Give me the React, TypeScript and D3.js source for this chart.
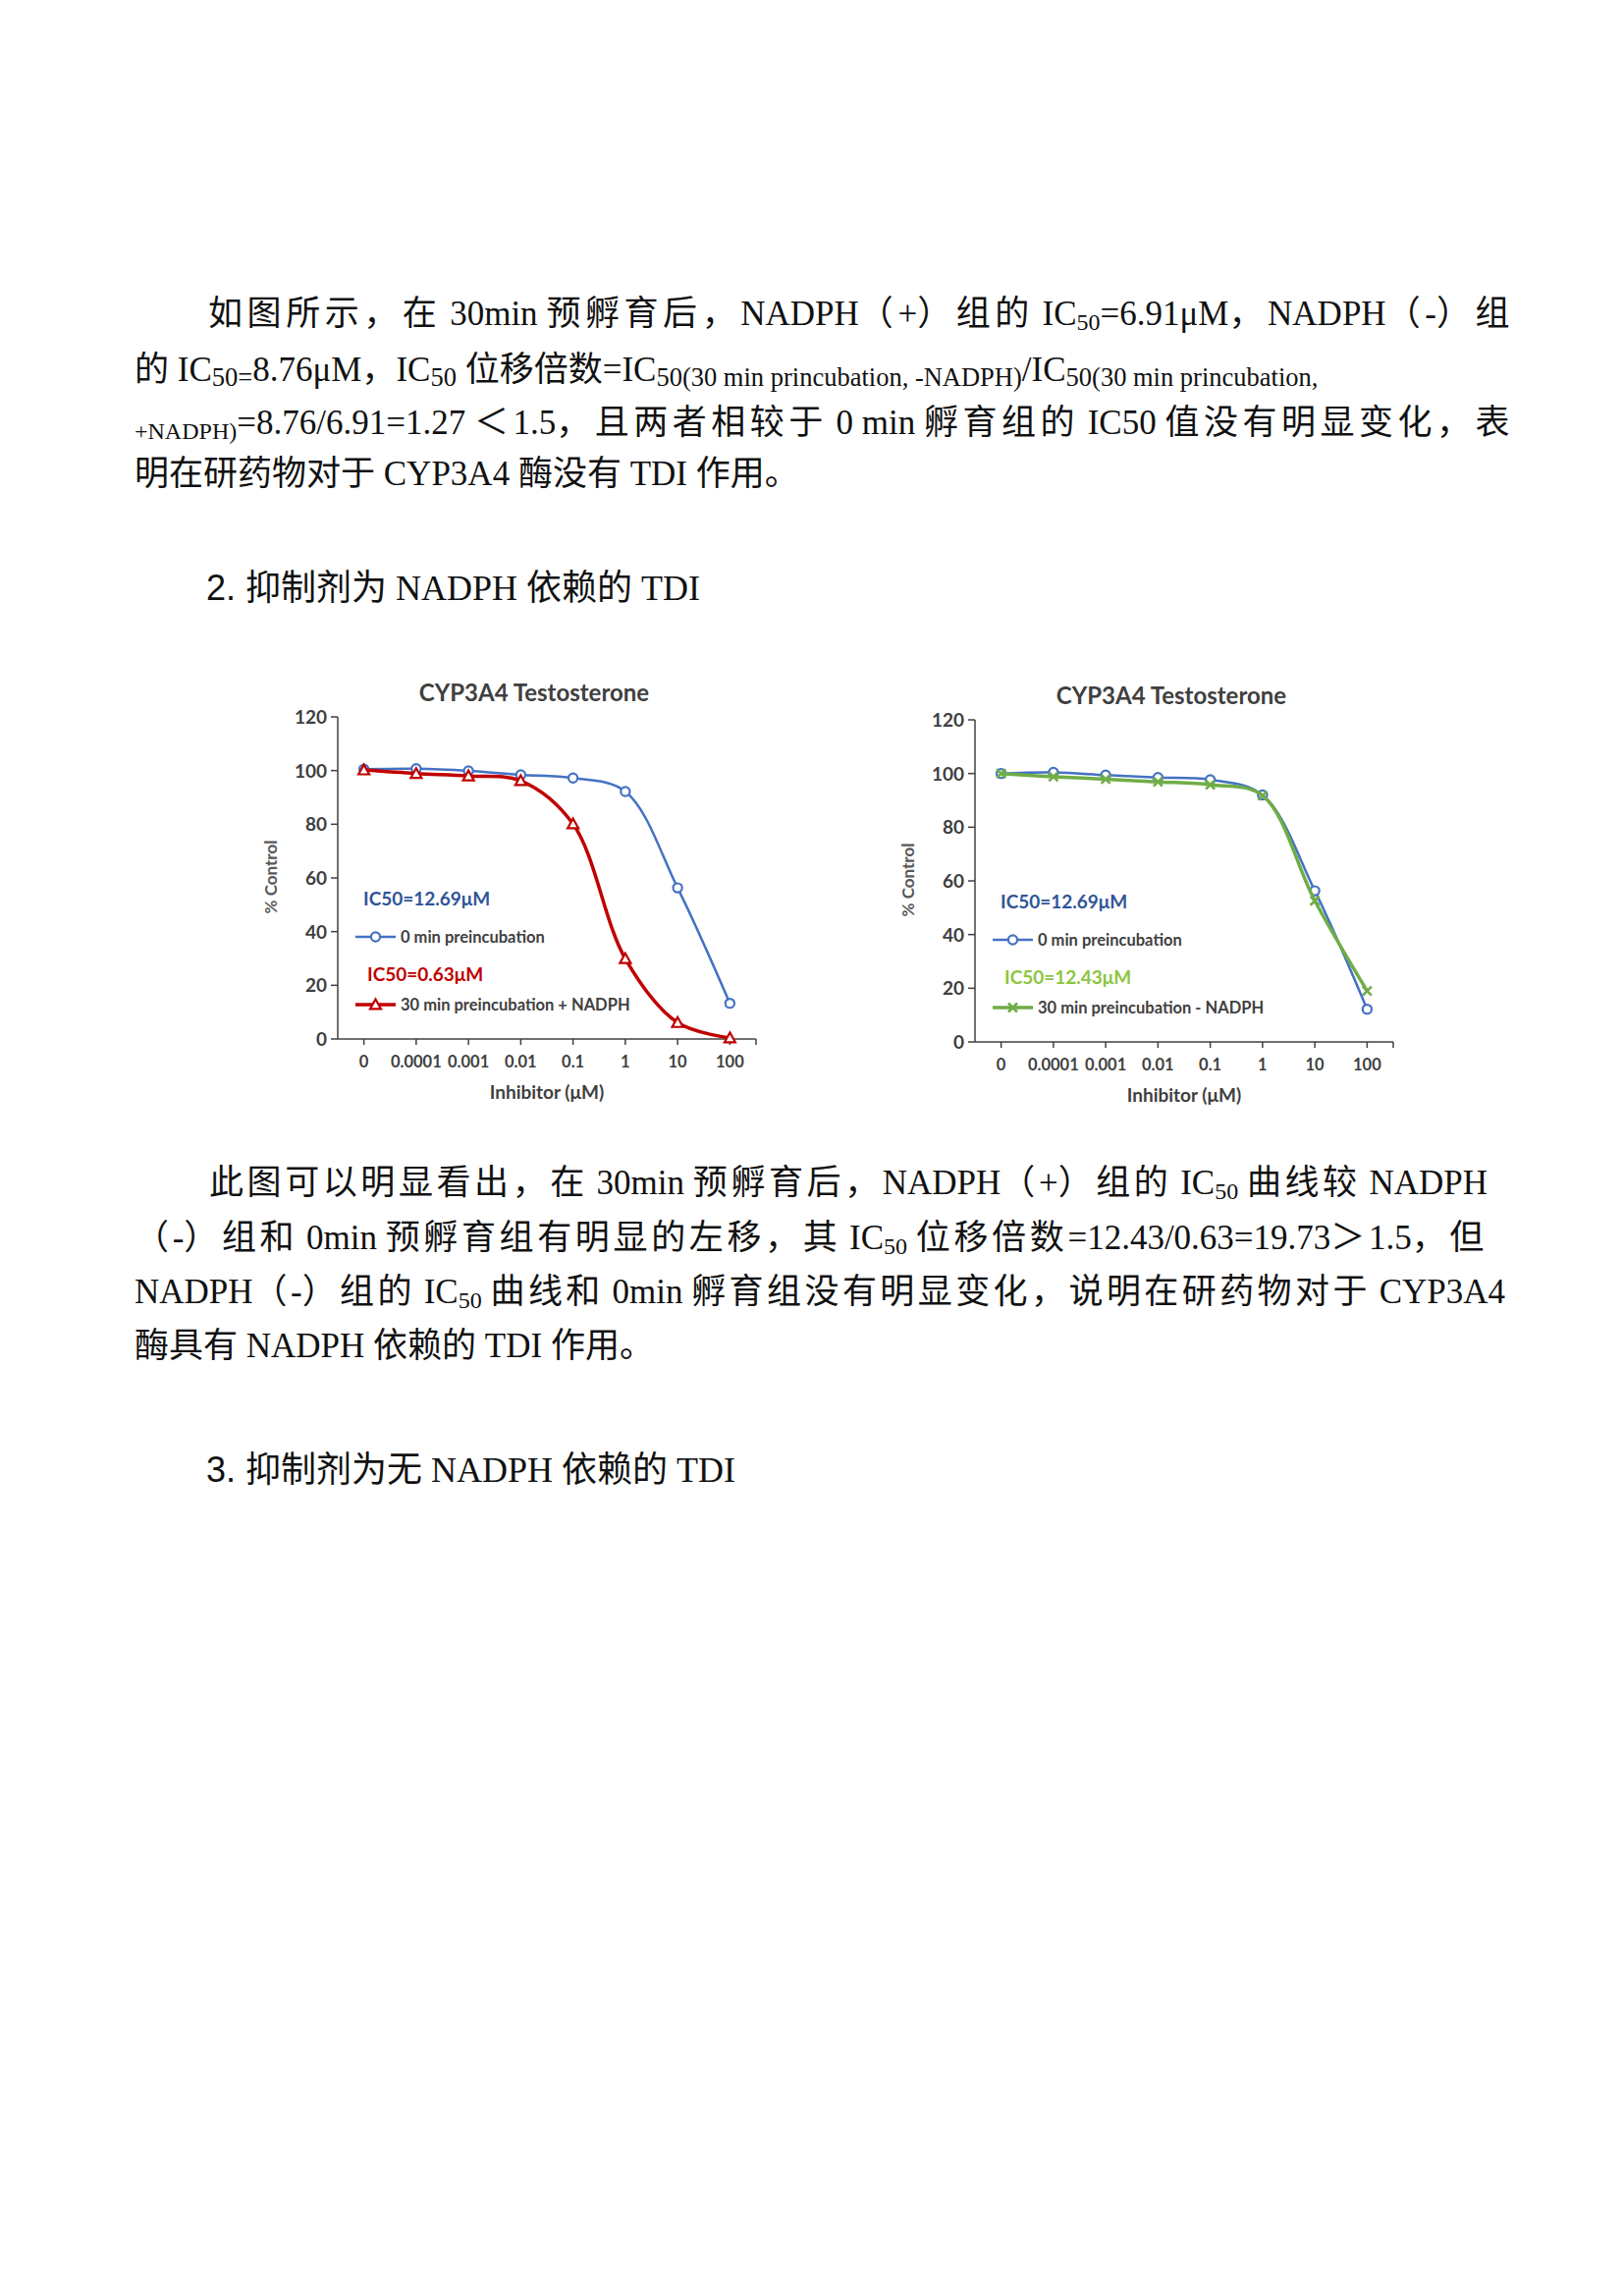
import * as d3 from "d3";
import React, { useLayoutEffect, useRef, useState } from "react";

// concentrations on the category axis
const concLabels = ["0", "0.0001", "0.001", "0.01", "0.1", "1", "10", "100"];
const yTicks = [0, 20, 40, 60, 80, 100, 120];

// left chart: NADPH dependent TDI
const leftZeroMin = [100.5, 100.7, 99.9, 98.4, 97.2, 92.2, 56.3, 13.3];
const leftPlusNadph = [100.2, 98.9, 98.0, 96.2, 80.1, 29.9, 6.1, 0.4];

// right chart: no shift without NADPH
const rightZeroMin = [100, 100.4, 99.4, 98.5, 97.7, 92.0, 56.3, 12.2];
const rightMinusNadph = [100, 98.8, 97.9, 96.9, 95.8, 91.8, 52.6, 19.0];

const BLUE = "#4472C4";
const RED = "#C00000";
const GREEN = "#70AD47";
const AXIS = "#404040";
const CHART_FONT = "Lato, 'Open Sans', sans-serif";
const BODY_FONT = "'Liberation Serif', 'Noto Sans CJK SC', serif";

const plotW = 426;
const plotH = 328;

type Series = {
  values: number[];
  color: string;
  width: number;
  marker: "circle" | "triangle" | "x";
};

const Marker: React.FC<{ kind: Series["marker"]; cx: number; cy: number; color: string }> = ({ kind, cx, cy, color }) => {
  if (kind === "circle") {
    return <circle cx={cx} cy={cy} r={4.6} fill="white" stroke={color} strokeWidth={2.2} />;
  }
  if (kind === "triangle") {
    const s = 5.5;
    return (
      <path
        d={`M${cx},${cy - s} L${cx + s},${cy + s * 0.8} L${cx - s},${cy + s * 0.8} Z`}
        fill="white"
        stroke={color}
        strokeWidth={2.2}
      />
    );
  }
  const s = 4.5;
  return (
    <path
      d={`M${cx - s},${cy - s} L${cx + s},${cy + s} M${cx - s},${cy + s} L${cx + s},${cy - s}`}
      stroke={color}
      strokeWidth={2.6}
    />
  );
};

const Chart: React.FC<{
  left: number;
  top: number;
  series: Series[];
  labels: { ic50: string; name: string; color: string }[];
}> = ({ left, top, series, labels }) => {
  const x = d3.scalePoint<string>().domain(concLabels).range([0, plotW]).padding(0.5);
  const y = d3.scaleLinear().domain([0, 120]).range([plotH, 0]);

  const line = d3
    .line<number>()
    .x((_, i) => x(concLabels[i]) as number)
    .y((d) => y(d))
    .curve(d3.curveCatmullRom.alpha(0.5));

  const xTickPos = [...concLabels.map((c) => x(c) as number), plotW];

  return (
    <g transform={`translate(${left},${top})`} fontFamily={CHART_FONT} fontWeight="bold">
      <text x={200} y={-16} textAnchor="middle" fontSize={24} fill={AXIS}>
        CYP3A4 Testosterone
      </text>

      {/* y axis */}
      <line x1={0} x2={0} y1={0} y2={plotH} stroke={AXIS} strokeWidth={1.5} />
      {yTicks.map((t) => (
        <g key={t} transform={`translate(0,${y(t)})`}>
          <line x1={-7} x2={0} stroke={AXIS} strokeWidth={1.5} />
          <text x={-11} dy="0.36em" textAnchor="end" fontSize={19} fill={AXIS}>
            {t}
          </text>
        </g>
      ))}
      <text
        transform={`translate(-62,${163}) rotate(-90)`}
        textAnchor="middle"
        fontSize={17}
        fill="#595959"
      >
        % Control
      </text>

      {/* x axis */}
      <line x1={0} x2={plotW} y1={plotH} y2={plotH} stroke={AXIS} strokeWidth={1.5} />
      {xTickPos.map((p, i) => (
        <line key={i} x1={p} x2={p} y1={plotH} y2={plotH + 6} stroke={AXIS} strokeWidth={1.5} />
      ))}
      {concLabels.map((c) => (
        <text key={c} x={x(c)} y={plotH + 29} textAnchor="middle" fontSize={16.5} fill={AXIS}>
          {c}
        </text>
      ))}
      <text x={213} y={plotH + 61} textAnchor="middle" fontSize={19} fill={AXIS}>
        Inhibitor (μM)
      </text>

      {/* legend */}
      {labels.map((l, i) => {
        const s = series[i];
        const ly = i === 0 ? 224 : 293;
        return (
          <g key={l.name}>
            <text x={i === 0 ? 26 : 30} y={i === 0 ? 192 : 269} fontSize={19} fill={l.color}>
              {l.ic50}
            </text>
            <line x1={18} x2={59} y1={ly} y2={ly} stroke={s.color} strokeWidth={s.width} />
            <Marker kind={s.marker} cx={38.5} cy={ly} color={s.color} />
            <text x={64} y={ly + 6} fontSize={16.5} fill={AXIS}>
              {l.name}
            </text>
          </g>
        );
      })}

      {/* series */}
      {series.map((s, si) => (
        <g key={si}>
          <path d={line(s.values) ?? ""} fill="none" stroke={s.color} strokeWidth={s.width} />
          {s.values.map((v, i) => (
            <Marker key={i} kind={s.marker} cx={x(concLabels[i]) as number} cy={y(v)} color={s.color} />
          ))}
        </g>
      ))}
    </g>
  );
};

type Seg = { t: string; sub?: boolean; sans?: boolean };

const SUB = 24;
const BODY = 35;
const CJK = /[\u3000-\u303f\u3400-\u9fff\uff00-\uffef]/;

// split a string into runs of CJK / non-CJK characters
const splitRuns = (s: string) => {
  const runs: { t: string; cjk: boolean }[] = [];
  for (const ch of s) {
    const c = CJK.test(ch);
    const last = runs[runs.length - 1];
    if (last && last.cjk === c) last.t += ch;
    else runs.push({ t: ch, cjk: c });
  }
  return runs;
};

const TextLine: React.FC<{
  x: number;
  y: number;
  segs: Seg[];
  width?: number;
  size?: number;
  subSize?: number;
}> = ({ x, y, segs, width, size = BODY, subSize = SUB }) => {
  const ref = useRef<SVGTextElement | null>(null);
  const spRef = useRef(0);
  const [spacing, setSpacing] = useState(0);

  useLayoutEffect(() => {
    if (!width) return;
    const fit = () => {
      const el = ref.current;
      if (!el) return;
      const count = segs.reduce((n, s) => n + [...s.t].filter((c) => CJK.test(c)).length, 0);
      if (!count) return;
      const len = el.getComputedTextLength();
      const next = spRef.current + (width - len) / count;
      spRef.current = next;
      setSpacing(next);
    };
    fit();
    document.fonts?.ready.then(() => {
      fit();
      requestAnimationFrame(fit);
    });
  }, []);

  let shifted = false;
  const parts: React.ReactNode[] = [];
  segs.forEach((s, i) => {
    let dy = 0;
    if (s.sub && !shifted) {
      dy = 5;
      shifted = true;
    } else if (!s.sub && shifted) {
      dy = -5;
      shifted = false;
    }
    splitRuns(s.t).forEach((r, j) => {
      parts.push(
        <tspan
          key={`${i}-${j}`}
          dy={j === 0 && dy ? dy : undefined}
          fontSize={s.sub ? subSize : undefined}
          fontFamily={s.sans ? "'Liberation Sans', 'Noto Sans CJK SC', sans-serif" : undefined}
          style={r.cjk && spacing ? { letterSpacing: `${spacing}px` } : undefined}
        >
          {r.t}
        </tspan>
      );
    });
  });

  return (
    <text ref={ref} x={x} y={y} fontSize={size} fontFamily={BODY_FONT} fill="#111">
      {parts}
    </text>
  );
};

export default function App() {
  return (
    <div style={{ position: "absolute", left: 0, top: 0, background: "white" }}>
      <svg width={1653} height={2338} viewBox="0 0 1653 2338" style={{ display: "block" }}>
        <rect width={1653} height={2338} fill="white" />

        <TextLine
          x={212}
          y={331}
          width={1330}
          segs={[
            { t: "如图所示，在 30min 预孵育后，NADPH（+）组的 IC" },
            { t: "50", sub: true },
            { t: "=6.91μM，NADPH（-）组" },
          ]}
        />
        <TextLine
          x={137}
          y={388}
          subSize={26.5}
          segs={[
            { t: "的 IC" },
            { t: "50=", sub: true },
            { t: "8.76μM，IC" },
            { t: "50", sub: true },
            { t: " 位移倍数=IC" },
            { t: "50(30 min princubation, -NADPH)", sub: true },
            { t: "/IC" },
            { t: "50(30 min princubation,", sub: true },
          ]}
        />
        <TextLine
          x={137}
          y={442}
          width={1405}
          segs={[
            { t: "+NADPH)", sub: true },
            { t: "=8.76/6.91=1.27 ＜1.5，且两者相较于 0 min 孵育组的 IC50 值没有明显变化，表" },
          ]}
        />
        <TextLine x={137} y={494} segs={[{ t: "明在研药物对于 CYP3A4 酶没有 TDI 作用。" }]} />

        <TextLine x={210} y={611} size={36} segs={[{ t: "2. ", sans: true }, { t: "抑制剂为 NADPH 依赖的 TDI" }]} />

        <Chart
          left={344}
          top={730}
          series={[
            { values: leftZeroMin, color: BLUE, width: 2.5, marker: "circle" },
            { values: leftPlusNadph, color: RED, width: 3.5, marker: "triangle" },
          ]}
          labels={[
            { ic50: "IC50=12.69μM", name: "0 min preincubation", color: "#2F5597" },
            { ic50: "IC50=0.63μM", name: "30 min preincubation + NADPH", color: RED },
          ]}
        />
        <Chart
          left={993}
          top={733}
          series={[
            { values: rightZeroMin, color: BLUE, width: 2.5, marker: "circle" },
            { values: rightMinusNadph, color: GREEN, width: 3.5, marker: "x" },
          ]}
          labels={[
            { ic50: "IC50=12.69μM", name: "0 min preincubation", color: "#2F5597" },
            { ic50: "IC50=12.43μM", name: "30 min preincubation - NADPH", color: "#8CC63F" },
          ]}
        />

        <TextLine
          x={213}
          y={1216}
          width={1302}
          segs={[
            { t: "此图可以明显看出，在 30min 预孵育后，NADPH（+）组的 IC" },
            { t: "50", sub: true },
            { t: " 曲线较 NADPH" },
          ]}
        />
        <TextLine
          x={137}
          y={1272}
          width={1378}
          segs={[
            { t: "（-）组和 0min 预孵育组有明显的左移，其 IC" },
            { t: "50", sub: true },
            { t: " 位移倍数=12.43/0.63=19.73＞1.5，但" },
          ]}
        />
        <TextLine
          x={137}
          y={1327}
          width={1396}
          segs={[
            { t: "NADPH（-）组的 IC" },
            { t: "50", sub: true },
            { t: " 曲线和 0min 孵育组没有明显变化，说明在研药物对于 CYP3A4" },
          ]}
        />
        <TextLine x={137} y={1382} segs={[{ t: "酶具有 NADPH 依赖的 TDI 作用。" }]} />

        <TextLine x={210} y={1509} size={36} segs={[{ t: "3. ", sans: true }, { t: "抑制剂为无 NADPH 依赖的 TDI" }]} />
      </svg>
    </div>
  );
}
